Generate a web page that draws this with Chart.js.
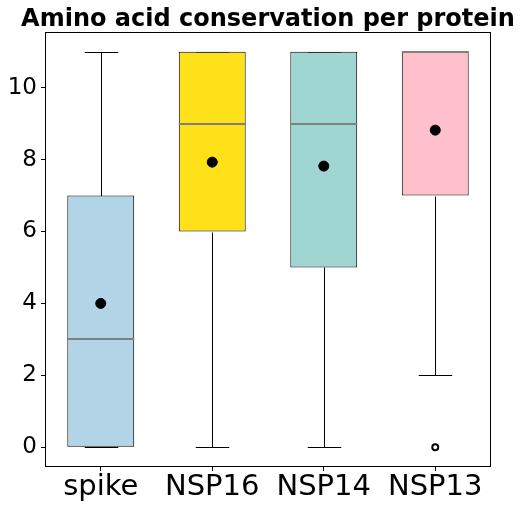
<!DOCTYPE html>
<html>
<head>
<meta charset="utf-8">
<script src="https://cdn.jsdelivr.net/npm/chart.js@4/dist/chart.umd.min.js"></script>
<style>
  body { margin: 0; background: #fff; }
</style>
</head>
<body>
<canvas id="boxChart" width="521" height="510"></canvas>
<script>
let titleText = 'Amino acid conservation per protein';
let categories = ['spike', 'NSP16', 'NSP14', 'NSP13'];
let whiskerLow = [0, 0, 0, 2];
let q1 = [0, 6, 5, 7];
let median = [3, 9, 9, 11];
let q3 = [7, 11, 11, 11];
let whiskerHigh = [11, 11, 11, 11];
let means = [4.0, 7.93, 7.82, 8.82];
let outliers = [[], [], [], [0]];
let boxColors = ['#b3d3e6', '#ffe119', '#a0d6d1', '#ffc0cb'];
let yTicks = [0, 2, 4, 6, 8, 10];

// crisp 1px lines
function px(v) { return Math.round(v) + 0.5; }

// whiskers under the boxes, medians on top of them, frame + title around the plot
let boxParts = {
  id: 'boxParts',
  beforeDatasetsDraw(chart) {
    let ctx = chart.ctx, x = chart.scales.x, y = chart.scales.y;
    let meta = chart.getDatasetMeta(0);
    ctx.save();
    ctx.strokeStyle = '#000';
    ctx.lineWidth = 1;
    categories.forEach((c, i) => {
      let cx = px(x.getPixelForValue(i));
      let half = meta.data[i].width / 4;
      let lo = px(y.getPixelForValue(whiskerLow[i])), hi = px(y.getPixelForValue(whiskerHigh[i]));
      ctx.beginPath();
      ctx.moveTo(cx, lo); ctx.lineTo(cx, px(y.getPixelForValue(q1[i])));
      ctx.moveTo(cx, hi); ctx.lineTo(cx, px(y.getPixelForValue(q3[i])));
      ctx.moveTo(cx - half, lo); ctx.lineTo(cx + half, lo);
      ctx.moveTo(cx - half, hi); ctx.lineTo(cx + half, hi);
      ctx.stroke();
    });
    ctx.restore();
  },
  afterDatasetDraw(chart, args) {
    if (args.index !== 0) return;
    let ctx = chart.ctx, x = chart.scales.x, y = chart.scales.y;
    let meta = chart.getDatasetMeta(0);
    ctx.save();
    ctx.strokeStyle = '#808080';
    ctx.lineWidth = 2;
    categories.forEach((c, i) => {
      let cx = x.getPixelForValue(i);
      let half = meta.data[i].width / 2;
      let py = Math.round(y.getPixelForValue(median[i]));
      ctx.beginPath();
      ctx.moveTo(cx - half, py); ctx.lineTo(cx + half, py);
      ctx.stroke();
    });
    ctx.restore();
  },
  afterDatasetsDraw(chart) {
    let a = chart.chartArea, ctx = chart.ctx;
    ctx.save();
    ctx.strokeStyle = '#000';
    ctx.lineWidth = 1;
    ctx.strokeRect(px(a.left), px(a.top), Math.round(a.right - a.left) - 1, Math.round(a.bottom - a.top) - 1);
    // title centred over the plot area (the built-in one squeezes it to the area width)
    ctx.fillStyle = '#000';
    ctx.font = 'bold 24px "DejaVu Sans"';
    ctx.textAlign = 'center';
    ctx.textBaseline = 'alphabetic';
    ctx.fillText(titleText, (a.left + a.right) / 2, 26);
    ctx.restore();
  }
};

let outlierPoints = [];
outliers.forEach((list, i) => list.forEach(v => outlierPoints.push({x: categories[i], y: v})));

Chart.defaults.color = '#000';
Chart.defaults.font.family = 'DejaVu Sans';

var ctx = document.getElementById('boxChart').getContext('2d');
var boxChart = new Chart(ctx, {
  type: 'bar',
  data: {
    labels: categories,
    datasets: [{
      label: 'box',
      data: categories.map((c, i) => [q1[i], q3[i]]),
      backgroundColor: boxColors,
      borderColor: '#000',
      borderWidth: 1,
      borderSkipped: false,
      barPercentage: 0.6,
      categoryPercentage: 1,
      order: 10
    },
    {
      type: 'line',
      label: 'mean',
      data: means,
      showLine: false,
      pointRadius: 5,
      pointBackgroundColor: '#000',
      pointBorderColor: '#000',
      order: 1
    },
    {
      type: 'line',
      label: 'outliers',
      data: outlierPoints,
      showLine: false,
      pointRadius: 3,
      pointBorderWidth: 2,
      pointBackgroundColor: '#fff',
      pointBorderColor: '#000',
      order: 2
    }]
  },
  options: {
    responsive: false,
    animation: false,
    layout: {padding: {left: 0, right: 30, top: 32, bottom: 0}},
    scales: {
      x: {
        grid: {display: true, offset: false, drawOnChartArea: false, drawTicks: true, tickLength: 4, color: '#000'},
        border: {display: false},
        ticks: {font: {size: 29}, padding: -1, maxRotation: 0},
        afterFit(scale) { scale.height = 43; }
      },
      y: {
        min: -0.55,
        max: 11.55,
        grid: {display: true, drawOnChartArea: false, drawTicks: true, tickLength: 4, color: '#000'},
        border: {display: false},
        ticks: {font: {size: 23}, padding: 4},
        afterBuildTicks(scale) { scale.ticks = yTicks.map(v => ({value: v})); },
        afterFit(scale) { scale.width = 45; }
      }
    },
    plugins: {
      legend: {display: false},
      tooltip: {enabled: false},
      title: {display: false}
    }
  },
  plugins: [boxParts]
});
</script>
</body>
</html>
